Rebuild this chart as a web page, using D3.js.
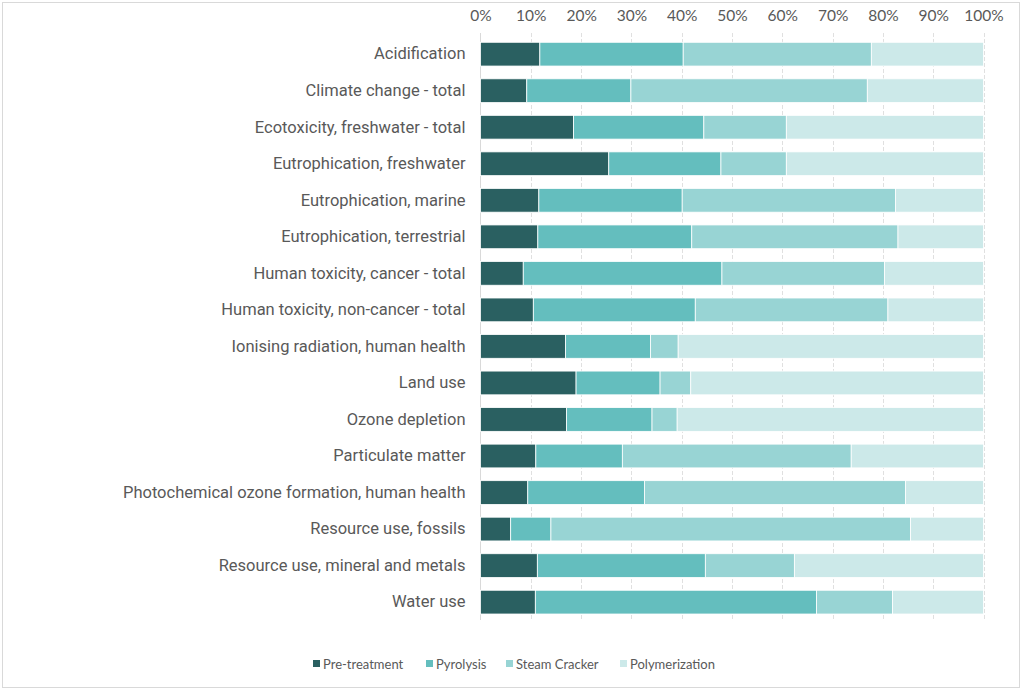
<!DOCTYPE html>
<html>
<head>
<meta charset="utf-8">
<script src="https://cdn.jsdelivr.net/npm/d3@7"></script>
<style>
  body { margin: 0; background: #fff; }
  svg { display: block; }
</style>
</head>
<body>
<svg id="drawing_region"></svg>
<script>
// impact categories, top to bottom
const categories = [
    "Acidification",
    "Climate change - total",
    "Ecotoxicity, freshwater - total",
    "Eutrophication, freshwater",
    "Eutrophication, marine",
    "Eutrophication, terrestrial",
    "Human toxicity, cancer - total",
    "Human toxicity, non-cancer - total",
    "Ionising radiation, human health",
    "Land use",
    "Ozone depletion",
    "Particulate matter",
    "Photochemical ozone formation, human health",
    "Resource use, fossils",
    "Resource use, mineral and metals",
    "Water use"
];

const seriesNames = ["Pre-treatment", "Pyrolysis", "Steam Cracker", "Polymerization"];

// shares in percent
const preTreatment  = [11.8,  9.2, 18.5, 25.5, 11.6, 11.4,  8.5, 10.5, 16.9, 19.0, 17.1, 11.0,  9.4,  6.0, 11.3, 10.9];
const pyrolysis     = [28.5, 20.7, 25.9, 22.3, 28.5, 30.6, 39.5, 32.2, 16.9, 16.7, 17.0, 17.2, 23.2,  8.0, 33.4, 55.9];
const steamCracker  = [37.4, 47.0, 16.4, 13.0, 42.4, 41.0, 32.3, 38.3,  5.5,  6.1,  5.0, 45.5, 51.9, 71.5, 17.7, 15.1];
const polymerization= [22.3, 23.1, 39.2, 39.2, 17.5, 17.0, 19.7, 19.0, 60.7, 58.2, 60.9, 26.3, 15.5, 14.5, 37.6, 18.1];

const tickValues = [0, 10, 20, 30, 40, 50, 60, 70, 80, 90, 100];

const colors = ["#2a6061", "#64bebe", "#98d4d4", "#cce9e9"];

const W = 1024, H = 692;
const margin = {top: 36, left: 480.5, right: 40.5, bottom: 72};

const svg = d3.select('#drawing_region')
    .attr('width', W)
    .attr('height', H);

// chart frame
svg.append('rect')
    .attr('x', 2.5).attr('y', 2.5)
    .attr('width', 1017).attr('height', 685)
    .attr('fill', 'none')
    .attr('stroke', '#d9d9d9');

const data = categories.map((c, i) => ({
    label: c,
    "Pre-treatment": preTreatment[i],
    "Pyrolysis": pyrolysis[i],
    "Steam Cracker": steamCracker[i],
    "Polymerization": polymerization[i]
}));

// normalise each row to 100%
data.forEach(d => {
    const s = d3.sum(seriesNames, k => d[k]);
    seriesNames.forEach(k => d[k] = d[k] / s * 100);
});

const stacked = d3.stack().keys(seriesNames)(data);

const xscale = d3.scaleLinear()
    .domain([0, 100])
    .range([margin.left, W - margin.right]);

const yscale = d3.scaleBand()
    .domain(categories)
    .range([35.9, 620.4])
    .paddingInner(0.35)
    .paddingOuter(0.175);

// dashed gridlines
svg.append('g')
    .selectAll('line')
    .data(tickValues.slice(1))
    .join('line')
    .attr('x1', d => Math.round(xscale(d)) + 0.5)
    .attr('x2', d => Math.round(xscale(d)) + 0.5)
    .attr('y1', 33)
    .attr('y2', 620)
    .attr('stroke', '#e0e0e0')
    .attr('stroke-dasharray', '4,2');

// axis line at 0
svg.append('line')
    .attr('x1', xscale(0)).attr('x2', xscale(0))
    .attr('y1', 33).attr('y2', 620)
    .attr('stroke', '#d9d9d9');

// bars
svg.append('g')
    .selectAll('g')
    .data(stacked)
    .join('g')
    .attr('fill', (d, i) => colors[i])
    .selectAll('rect')
    .data(d => d)
    .join('rect')
    .attr('x', d => xscale(d[0]))
    .attr('y', d => yscale(d.data.label))
    .attr('width', d => xscale(d[1]) - xscale(d[0]))
    .attr('height', yscale.bandwidth())
    .attr('stroke', '#ffffff')
    .attr('stroke-width', 0.8);

// top axis
const xaxis = d3.axisTop(xscale)
    .tickValues(tickValues)
    .tickFormat(d => d + '%')
    .tickSize(0)
    .tickPadding(0);

const xg = svg.append('g')
    .attr('transform', 'translate(0, 21)')
    .call(xaxis);
xg.select('.domain').remove();
xg.selectAll('text')
    .attr('font-family', 'Lato, "Open Sans", sans-serif')
    .attr('font-size', 15.5)
    .attr('fill', '#595959');

// category labels
const yaxis = d3.axisLeft(yscale)
    .tickSize(0)
    .tickPadding(15);

const yg = svg.append('g')
    .attr('transform', `translate(${margin.left}, 0)`)
    .call(yaxis);
yg.select('.domain').remove();
yg.selectAll('text')
    .attr('font-family', 'Roboto, sans-serif')
    .attr('font-size', 16.5)
    .attr('fill', '#595959');

// legend
const legendX = [313, 426, 506, 620];
const legend = svg.append('g')
    .selectAll('g')
    .data(seriesNames)
    .join('g')
    .attr('transform', (d, i) => `translate(${legendX[i]}, 664)`);

legend.append('rect')
    .attr('x', 0).attr('y', -4)
    .attr('width', 7).attr('height', 7)
    .attr('fill', (d, i) => colors[i]);

legend.append('text')
    .attr('x', 10)
    .attr('y', 0)
    .attr('dy', '0.35em')
    .attr('font-family', 'Lato, "Open Sans", sans-serif')
    .attr('font-size', 13)
    .attr('fill', '#595959')
    .text(d => d);
</script>
</body>
</html>
